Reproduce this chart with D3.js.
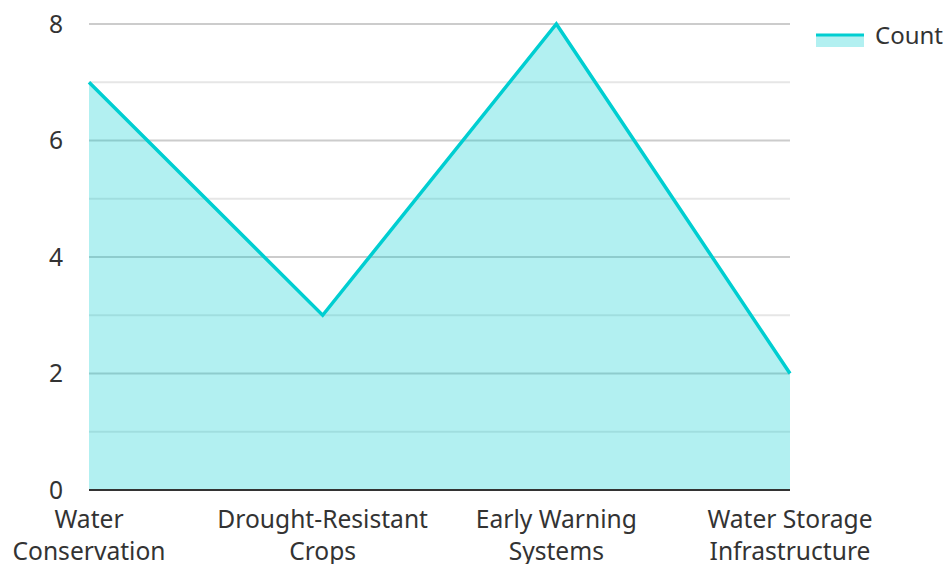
<!DOCTYPE html>
<html><head><meta charset="utf-8">
<script src="https://cdn.jsdelivr.net/npm/d3@7"></script>
<style>body{margin:0;background:#fff}svg{display:block;font-family:"Noto Sans",sans-serif}</style>
</head><body><svg id="c" width="947" height="564"></svg>
<script>
const categories = ["Water Conservation","Drought-Resistant Crops","Early Warning Systems","Water Storage Infrastructure"];
const labelLines = [["Water","Conservation"],["Drought-Resistant","Crops"],["Early Warning","Systems"],["Water Storage","Infrastructure"]];
const counts = [7,3,8,2];
const yTicks = [0,2,4,6,8];
const seriesName = "Count";

const svg = d3.select("#c");
const L=89, R=790, T=24, B=490;
const x = d3.scalePoint().domain(categories).range([L,R]);
const y = d3.scaleLinear().domain([0,8]).range([B,T]);
const col = "#00CED1";
const fs = 24.6;

const g = svg.append("g");
d3.range(1,9).forEach(v=>{
  g.append("line").attr("x1",L).attr("x2",R).attr("y1",y(v)).attr("y2",y(v))
   .attr("stroke", v%2===0 ? "#cccccc" : "#e6e6e6").attr("stroke-width",2);
});

const data = categories.map((c,i)=>({c, v:counts[i]}));
svg.append("path").datum(data)
  .attr("d", d3.area().x(d=>x(d.c)).y0(y(0)).y1(d=>y(d.v)))
  .attr("fill", col).attr("fill-opacity",0.3);
svg.append("path").datum(data)
  .attr("d", d3.line().x(d=>x(d.c)).y(d=>y(d.v)))
  .attr("fill","none").attr("stroke",col).attr("stroke-width",3.5);

svg.append("line").attr("x1",L).attr("x2",R).attr("y1",B).attr("y2",B).attr("stroke","#333").attr("stroke-width",2);

svg.selectAll(".yl").data(yTicks).join("text")
  .attr("x",63).attr("y",d=>y(d)).attr("dy","0.35em").attr("text-anchor","end")
  .attr("font-size",fs).attr("fill","#333").text(d=>d);

categories.forEach((c,i)=>{
  const t = svg.append("text").attr("text-anchor","middle").attr("font-size",fs).attr("fill","#333");
  labelLines[i].forEach((ln,j)=>{
    t.append("tspan").attr("x",x(c)).attr("y",527.5+j*32).text(ln);
  });
});

svg.append("rect").attr("x",816).attr("y",34).attr("width",48).attr("height",13).attr("fill",col).attr("fill-opacity",0.3);
svg.append("line").attr("x1",816).attr("x2",864).attr("y1",35).attr("y2",35).attr("stroke",col).attr("stroke-width",3);
svg.append("text").attr("x",875).attr("y",44).attr("font-size",24).attr("fill","#333").text(seriesName);
</script></body></html>
